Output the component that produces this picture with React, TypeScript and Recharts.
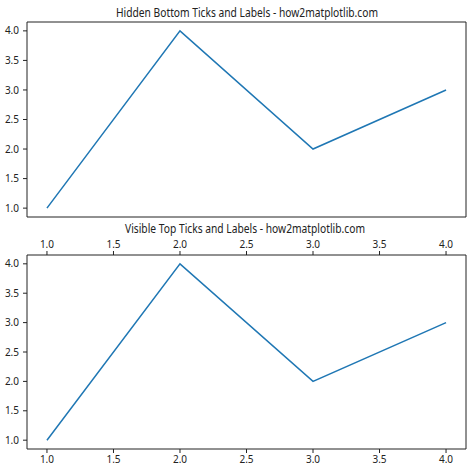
import { LineChart, Line, XAxis, YAxis, ReferenceArea } from 'recharts';

const xValues = [1, 2, 3, 4];
const yValues = [1, 4, 2, 3];
const tickValues = [1, 1.5, 2, 2.5, 3, 3.5, 4];
const domainPad = [0.85, 4.15];
const titles = [
  'Hidden Bottom Ticks and Labels - how2matplotlib.com',
  'Visible Top Ticks and Labels - how2matplotlib.com',
];

const data = xValues.map((x, i) => ({ x, y: yValues[i] }));

const FONT = '"Noto Sans", "Open Sans", sans-serif';
const INK = '#222';
const tickStyle = { fontSize: 10, fill: INK, fontFamily: FONT };
const fmt = (v: number) => v.toFixed(1);

export default function App() {
  return (
    <div style={{ position: 'absolute', left: 0, top: 0, width: 474, height: 474, background: '#fff' }}>
      {/* Top: bottom ticks hidden */}
      <div style={{ position: 'absolute', left: 0, top: 0 }}>
        <LineChart width={474} height={230} data={data} margin={{ top: 22, right: 8, left: 0, bottom: 12 }}>
          <XAxis dataKey="x" type="number" domain={domainPad} ticks={tickValues} height={1}
            tick={false} tickLine={false} axisLine={false} />
          <YAxis type="number" domain={domainPad} ticks={tickValues} width={27} tickFormatter={fmt}
            tick={tickStyle} tickSize={4} tickMargin={4} axisLine={false} tickLine={{ stroke: INK }} />
          <ReferenceArea x1={domainPad[0]} x2={domainPad[1]} y1={domainPad[0]} y2={domainPad[1]}
            fill="none" stroke={INK} strokeWidth={1} fillOpacity={0} />
          <Line dataKey="y" stroke="#1f77b4" strokeWidth={1.5} dot={false} isAnimationActive={false} />
        </LineChart>
      </div>

      {/* Bottom: top ticks visible */}
      <div style={{ position: 'absolute', left: 0, top: 232 }}>
        <LineChart width={474} height={242} data={data} margin={{ top: 3, right: 8, left: 0, bottom: 5 }}>
          <XAxis xAxisId="top" orientation="top" dataKey="x" type="number" domain={domainPad} ticks={tickValues}
            height={20} tickFormatter={fmt} tick={tickStyle} tickSize={4} tickMargin={3}
            axisLine={false} tickLine={{ stroke: INK }} />
          <XAxis xAxisId="bottom" orientation="bottom" dataKey="x" type="number" domain={domainPad} ticks={tickValues}
            height={20} tickFormatter={fmt} tick={tickStyle} tickSize={4} tickMargin={3}
            axisLine={false} tickLine={{ stroke: INK }} />
          <YAxis type="number" domain={domainPad} ticks={tickValues} width={27} tickFormatter={fmt}
            tick={tickStyle} tickSize={4} tickMargin={4} axisLine={false} tickLine={{ stroke: INK }} />
          <ReferenceArea xAxisId="top" x1={domainPad[0]} x2={domainPad[1]} y1={domainPad[0]} y2={domainPad[1]}
            fill="none" stroke={INK} strokeWidth={1} fillOpacity={0} />
          <Line xAxisId="top" dataKey="y" stroke="#1f77b4" strokeWidth={1.5} dot={false} isAnimationActive={false} />
        </LineChart>
      </div>

      <svg width={474} height={474} style={{ position: 'absolute', left: 0, top: 0, pointerEvents: 'none' }}>
        <text x={247} y={17} textAnchor="middle" fontSize={12} fill={INK} fontFamily={FONT}
          textLength={262} lengthAdjust="spacingAndGlyphs">{titles[0]}</text>
        <text x={245} y={233} textAnchor="middle" fontSize={12} fill={INK} fontFamily={FONT}
          textLength={240} lengthAdjust="spacingAndGlyphs">{titles[1]}</text>
      </svg>
    </div>
  );
}
